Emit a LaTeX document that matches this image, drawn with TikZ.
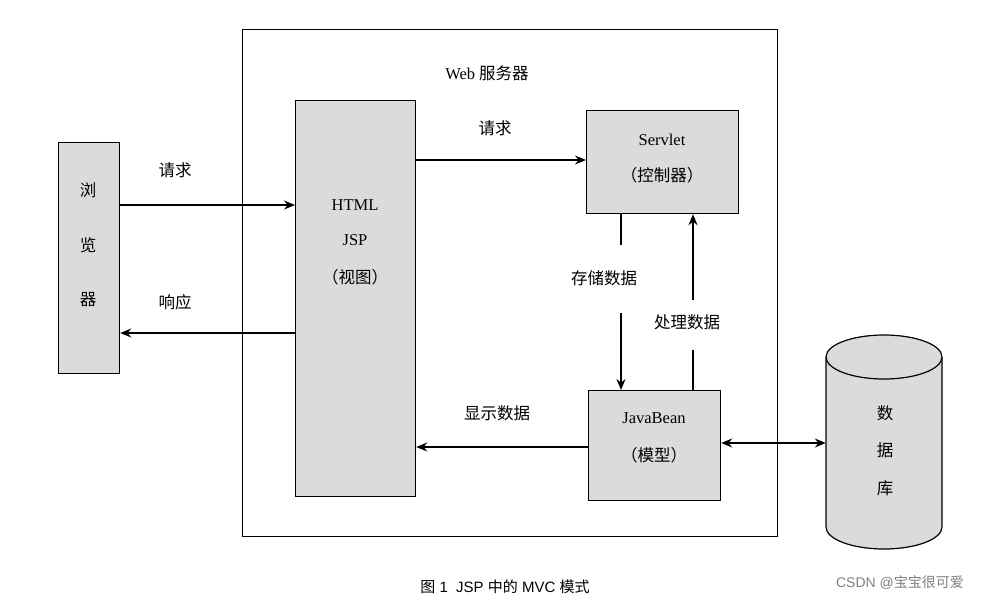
\documentclass[tikz,border=0pt]{standalone}
\usepackage{fontspec}
\setmainfont{Liberation Serif}
\newfontfamily\cjk{Noto Sans CJK SC}
\newfontfamily\capf{Liberation Sans}
\usetikzlibrary{arrows.meta}
\begin{document}
\begin{tikzpicture}[x=1pt,y=-1pt,
  box/.style={draw,line width=1.2pt,fill=gray!28},
  tip/.tip={Stealth[length=11pt,width=9pt]},
  arr/.style={line width=1.5pt,-tip},
  lbl/.style={font=\fontsize{16.5}{19}\selectfont}]
\useasboundingbox (0,0) rectangle (1002,603);
\node[draw,line width=1.2pt,minimum width=535pt,minimum height=507pt,anchor=north west] (srv) at (242,29) {};
\node[box,minimum width=61pt,minimum height=231pt,anchor=north west] (br) at (58,142) {};
\node[box,minimum width=120pt,minimum height=396pt,anchor=north west] (v) at (295,100) {};
\node[box,minimum width=152pt,minimum height=103pt,anchor=north west] (c) at (586,110) {};
\node[box,minimum width=132pt,minimum height=110pt,anchor=north west] (m) at (588,390) {};
% database cylinder
\draw[line width=1.2pt,fill=gray!28] (826,357) -- (826,527) arc[start angle=180,end angle=360,x radius=58pt,y radius=22pt] -- (942,357);
\draw[line width=1.2pt,fill=gray!28] (884,357) ellipse[x radius=58pt,y radius=22pt];
\node[minimum width=116pt,minimum height=170pt,inner sep=0pt] (db) at (884,442) {};
% texts
\node[lbl] (t1) at (88,190) {\cjk 浏};
\node[lbl] (t2) at (88,245) {\cjk 览};
\node[lbl] (t3) at (88,300) {\cjk 器};
\node[lbl] (h1) at (355,205) {HTML};
\node[lbl] (h2) at (355,240) {JSP};
\node[lbl] (h3) at (355,277) {\cjk （视图）};
\node[lbl] (s1) at (662,140) {Servlet};
\node[lbl] (s2) at (662,175) {\cjk （控制器）};
\node[lbl] (j1) at (654,418) {JavaBean};
\node[lbl] (j2) at (654,455) {\cjk （模型）};
\node[lbl] (d1) at (885,413) {\cjk 数};
\node[lbl] (d2) at (885,450) {\cjk 据};
\node[lbl] (d3) at (885,488) {\cjk 库};
\node[lbl] (ws) at (487,73) {Web {\cjk 服务器}};
\node[lbl] (l1) at (175,170) {\cjk 请求};
\node[lbl] (l2) at (175,302) {\cjk 响应};
\node[lbl] (l3) at (495,128) {\cjk 请求};
\node[lbl] (l4) at (604,278) {\cjk 存储数据};
\node[lbl] (l5) at (687,322) {\cjk 处理数据};
\node[lbl] (l6) at (497,413) {\cjk 显示数据};
% arrows
\draw[arr] (br.east|-0,205) -- (v.west|-0,205);
\draw[arr] (v.west|-0,333) -- (br.east|-0,333);
\draw[arr] (v.east|-0,160) -- (c.west|-0,160);
\draw[line width=1.5pt] (621,213) -- (621,245);
\draw[arr] (621,313) -- (m.north-|621,0);
\draw[line width=1.5pt] (m.north-|693,0) -- (693,350);
\draw[arr] (693,300) -- (c.south-|693,0);
\draw[arr] (m.west|-0,447) -- (v.east|-0,447);
\draw[line width=1.5pt,tip-tip] (m.east|-0,443) -- (db.west|-0,443);
\node[font=\fontsize{15}{17}\selectfont\capf] (cap) at (505,587) {{\cjk 图} 1\ \ JSP {\cjk 中的} MVC {\cjk 模式}};
\node[font=\fontsize{14}{16}\selectfont\capf,text=gray] (wm) at (900,583) {CSDN @{\cjk 宝宝很可爱}};
\end{tikzpicture}
\end{document}
